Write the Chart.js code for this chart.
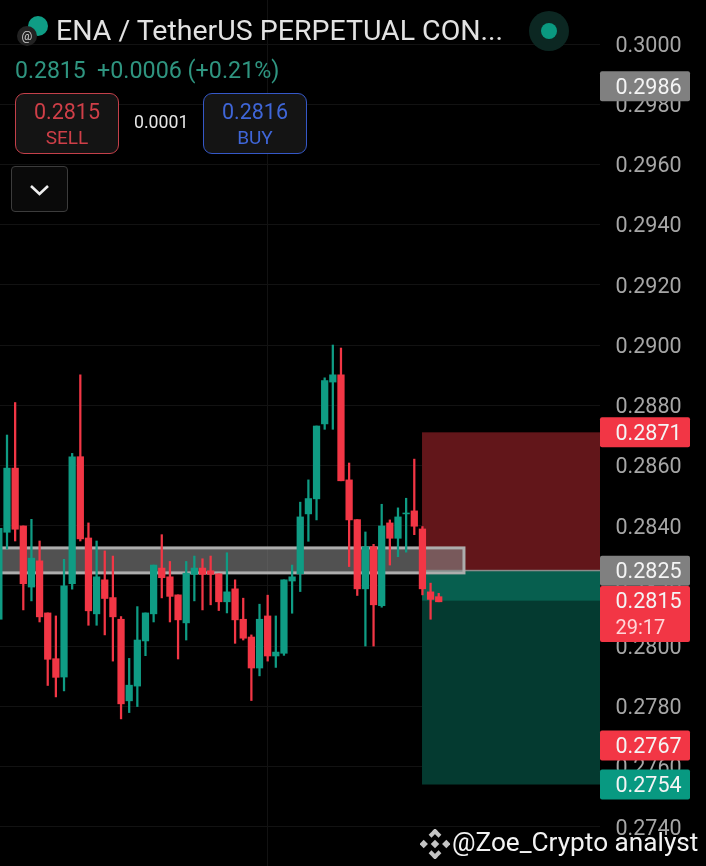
<!DOCTYPE html>
<html>
<head>
<meta charset="utf-8">
<script src="https://cdn.jsdelivr.net/npm/chart.js@4"></script>
<style>
  html, body { margin: 0; padding: 0; background: #000; }
  body { width: 706px; height: 866px; position: relative; overflow: hidden; font-family: Roboto, sans-serif; }
  canvas { position: absolute; left: 0; top: 0; }
  .txt { position: absolute; white-space: nowrap; line-height: 1; }
  .btn { position: absolute; top: 93px; width: 102px; height: 59px; border-radius: 9px; background: #141414; box-sizing: content-box; text-align: center; }
  .btn div { position: absolute; left: 0; right: 0; line-height: 1; }
</style>
</head>
<body>
<canvas id="chart" width="706" height="866"></canvas>

<div style="position:absolute;left:28px;top:16px;width:20px;height:20px;border-radius:50%;background:#0f9d85"></div>
<div style="position:absolute;left:17px;top:26px;width:20px;height:20px;border-radius:50%;background:#222;color:#ccc;font-size:12px;line-height:20px;text-align:center">@</div>
<div class="txt" style="left:56px;top:17px;font-size:28.5px;color:#e2e2e2">ENA / TetherUS PERPETUAL CON...</div>
<div style="position:absolute;left:529px;top:11px;width:40px;height:40px;border-radius:50%;background:#0c2722"></div>
<div style="position:absolute;left:541px;top:23px;width:16px;height:16px;border-radius:50%;background:#0a9980"></div>
<div class="txt" style="left:15px;top:59px;font-size:23px;color:#2f9580">0.2815</div>
<div class="txt" style="left:97px;top:59px;font-size:23.3px;color:#2f9580">+0.0006 (+0.21%)</div>

<div class="btn" style="left:15px;border:1.8px solid #c4404a;color:#cf3f48">
  <div style="top:7px;font-size:21.5px">0.2815</div>
  <div style="top:34px;font-size:19px">SELL</div>
</div>
<div class="txt" style="left:134px;top:114px;font-size:17.7px;color:#e6e6e6">0.0001</div>
<div class="btn" style="left:203px;border:1.8px solid #3558c8;color:#3f66d8">
  <div style="top:7px;font-size:21.5px">0.2816</div>
  <div style="top:34px;font-size:19px">BUY</div>
</div>
<div style="position:absolute;left:11px;top:166px;width:55px;height:44px;border:1.5px solid #3c3c3c;border-radius:4px;background:#0a0a0a"></div>
<svg style="position:absolute;left:29px;top:183px" width="22" height="14"><path d="M2 3 L10.5 11 L19 3" fill="none" stroke="#eee" stroke-width="2.6"/></svg>

<svg style="position:absolute;left:420px;top:829px" width="30" height="30">
  <g fill="#c4c4c4" transform="rotate(45 15 15)">
    <rect x="4" y="4" width="9" height="4"/>
    <rect x="4" y="4" width="4" height="9"/>
    <rect x="17" y="22" width="9" height="4"/>
    <rect x="22" y="17" width="4" height="9"/>
    <rect x="12" y="12" width="6" height="6"/>
    <rect x="20" y="4" width="6" height="6"/>
    <rect x="4" y="20" width="6" height="6"/>
  </g>
</svg>
<div class="txt" style="left:452px;top:829px;font-size:26.2px;color:#f2f2f2">@Zoe_Crypto analyst</div>

<script>
// candles, oldest first
const opens = [0.28089,0.28378,0.28591,0.28399,0.28196,0.28283,0.28110,0.27958,0.27897,0.28207,0.28629,0.28359,0.28107,0.28220,0.28161,0.28089,0.27818,0.27867,0.28017,0.28107,0.28259,0.28230,0.28170,0.28077,0.28238,0.28259,0.28250,0.28240,0.28147,0.28190,0.28089,0.28030,0.27927,0.28100,0.27967,0.27976,0.28216,0.28240,0.28439,0.28489,0.28738,0.28877,0.28901,0.28552,0.28420,0.28190,0.28330,0.28134,0.28409,0.28358,0.28439,0.28449,0.28389,0.28180,0.28164];
const highs = [0.28391,0.28701,0.28809,0.28399,0.28421,0.28349,0.28110,0.28100,0.28288,0.28640,0.28901,0.28409,0.28349,0.28316,0.28299,0.28098,0.27959,0.28131,0.28110,0.28269,0.28370,0.28281,0.28170,0.28281,0.28299,0.28290,0.28299,0.28240,0.28310,0.28220,0.28159,0.28037,0.28139,0.28169,0.28100,0.28220,0.28269,0.28478,0.28552,0.28731,0.28891,0.29000,0.28990,0.28608,0.28420,0.28379,0.28338,0.28471,0.28419,0.28459,0.28491,0.28621,0.28397,0.28209,0.28175];
const lows = [0.28089,0.28322,0.28349,0.28120,0.28150,0.28080,0.27869,0.27831,0.27851,0.28189,0.28349,0.28069,0.28069,0.28037,0.27950,0.27758,0.27779,0.27799,0.27968,0.28080,0.28160,0.28080,0.27957,0.28020,0.28150,0.28120,0.28137,0.28118,0.28110,0.28009,0.28020,0.27819,0.27901,0.27950,0.27929,0.27969,0.28109,0.28181,0.28348,0.28419,0.28720,0.28720,0.28549,0.28264,0.28168,0.28000,0.28000,0.28129,0.28269,0.28297,0.28312,0.28370,0.28170,0.28089,0.28147];
const closes = [0.28391,0.28591,0.28388,0.28207,0.28292,0.28097,0.27956,0.27896,0.28200,0.28629,0.28356,0.28117,0.28230,0.28158,0.28097,0.27808,0.27870,0.28020,0.28110,0.28269,0.28227,0.28165,0.28087,0.28242,0.28259,0.28238,0.28238,0.28147,0.28180,0.28087,0.28026,0.27927,0.28089,0.27967,0.27980,0.28220,0.28230,0.28429,0.28490,0.28731,0.28882,0.28901,0.28549,0.28419,0.28190,0.28330,0.28137,0.28399,0.28358,0.28429,0.28442,0.28398,0.28190,0.28155,0.28147];

const tickValues = [0.2740,0.2760,0.2780,0.2800,0.2820,0.2840,0.2860,0.2880,0.2900,0.2920,0.2940,0.2960,0.2980,0.3000];

// axis tags
const tagValues = [0.2986,0.2871,0.2825,0.2815,0.2767,0.2754];
const tagColors = ["#808080","#f23645","#808080","#f23645","#f23645","#089981"];

// long position and the grey zone
const stopLevel = 0.2871;
const entryLevel = 0.2825;
const lastPrice = 0.2815;
const targetLevel = 0.2754;
const zoneStartIndex = 51.95;
const greyZoneTop = 0.28326;
const greyZoneBottom = 0.28243;
const greyZoneEndIndex = 57.1;

const GREEN = "#0f9c84";
const RED = "#f23645";
const indexes = opens.map((o, i) => i);
const candleColors = opens.map((o, i) => (closes[i] >= o ? GREEN : RED));

const wicks = indexes.map((i) => ({ x: i, y: [lows[i], highs[i]] }));
const bodies = indexes.map((i) => ({ x: i, y: [opens[i], closes[i]] }));

// zones go under the candles
const zonesPlugin = {
  id: "zones",
  beforeDatasetsDraw(chart) {
    const { ctx, scales, chartArea } = chart;
    const x = scales.x, y = scales.y;
    const left = x.getPixelForValue(zoneStartIndex);
    const right = chartArea.right;
    const rect = (top, bottom, color) => {
      ctx.fillStyle = color;
      ctx.fillRect(left, y.getPixelForValue(top), right - left, y.getPixelForValue(bottom) - y.getPixelForValue(top));
    };
    ctx.save();
    rect(stopLevel, entryLevel, "#62161a");
    rect(entryLevel, lastPrice, "#075f4f");
    rect(lastPrice, targetLevel, "#043a30");
    ctx.fillStyle = "#8a8a8a";
    ctx.fillRect(left, y.getPixelForValue(entryLevel) - 1, right - left, 1.5);

    const gTop = y.getPixelForValue(greyZoneTop);
    const gBottom = y.getPixelForValue(greyZoneBottom);
    const gRight = x.getPixelForValue(greyZoneEndIndex);
    ctx.fillStyle = "rgba(135,135,135,0.6)";
    ctx.fillRect(-4, gTop, gRight + 4, gBottom - gTop);
    ctx.strokeStyle = "#adadad";
    ctx.lineWidth = 3;
    ctx.strokeRect(-4, gTop, gRight + 4, gBottom - gTop);
    ctx.restore();
  },
};

// price tags sit on top of the axis labels
const tagsPlugin = {
  id: "tags",
  afterDraw(chart) {
    const { ctx, scales } = chart;
    ctx.save();
    ctx.textBaseline = "middle";
    tagValues.forEach((v, i) => {
      const py = scales.y.getPixelForValue(v);
      const isLast = v === lastPrice;
      ctx.fillStyle = tagColors[i];
      ctx.beginPath();
      ctx.roundRect(600, py - 15, 90, isLast ? 56 : 30, 2);
      ctx.fill();
      ctx.fillStyle = "#f4f4f4";
      ctx.font = "21.5px Roboto";
      ctx.fillText(v.toFixed(4), 615.5, py + 2);
      if (isLast) {
        ctx.fillStyle = "#ffd5d8";
        ctx.font = "20px Roboto";
        ctx.fillText("29:17", 615.5, py + 28);
      }
    });
    ctx.restore();
  },
};

new Chart(document.getElementById("chart"), {
  type: "bar",
  data: {
    datasets: [
      { data: wicks, backgroundColor: candleColors, barThickness: 1.6, order: 2 },
      { data: bodies, backgroundColor: candleColors, barThickness: 6.6, order: 1 },
    ],
  },
  plugins: [zonesPlugin, tagsPlugin],
  options: {
    responsive: false,
    devicePixelRatio: 1,
    animation: false,
    grouped: false,
    layout: { padding: 0 },
    plugins: { legend: { display: false }, tooltip: { enabled: false } },
    scales: {
      x: {
        type: "linear",
        offset: false,
        min: 0.14,
        max: 73.8,
        border: { display: false },
        ticks: { display: false },
        grid: { color: "#121212", drawTicks: false, offset: false },
        afterBuildTicks(axis) { axis.ticks = [{ value: 33 }]; },
        afterFit(axis) { axis.height = 0; },
      },
      y: {
        position: "right",
        min: 0.272693,
        max: 0.301462,
        border: { display: false },
        grid: { color: "#121212", drawTicks: false },
        ticks: {
          color: "#a6a6a6",
          padding: 15.5,
          labelOffset: 2.5,
          font: { family: "Roboto", size: 21.5 },
          callback: (v) => v.toFixed(4),
          autoSkip: false,
        },
        afterBuildTicks(axis) { axis.ticks = tickValues.map((v) => ({ value: v })); },
        afterFit(axis) {
          axis.width = 106;
          axis.paddingTop = 0;
          axis.paddingBottom = 0;
        },
      },
    },
  },
});
</script>
</body>
</html>
